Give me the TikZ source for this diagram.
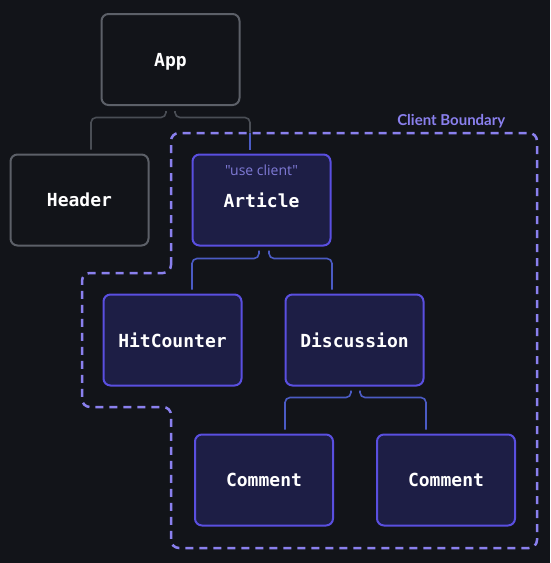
\documentclass[tikz,border=0pt]{standalone}
\usepackage{fontspec}
\setmonofont{DejaVu Sans Mono}
\newfontfamily\latofont{Lato}
\newfontfamily\opensansfont{Open Sans}
\usetikzlibrary{calc}
\definecolor{bgc}{HTML}{121419}
\definecolor{grayborder}{HTML}{5C6068}
\definecolor{grayconn}{HTML}{4A4E55}
\definecolor{blueborder}{HTML}{5A4FE0}
\definecolor{bluefill}{HTML}{1D1E45}
\definecolor{blueconn}{HTML}{4B5BC4}
\definecolor{boundc}{HTML}{8A80EE}
\definecolor{usec}{HTML}{7F7AD6}
\begin{document}
\begin{tikzpicture}[x=1pt,y=-1pt,
  box/.style={rounded corners=7pt, line width=2pt, minimum width=138pt, minimum height=91pt,
    inner sep=0pt, text depth=0pt, text=white, font=\ttfamily\bfseries\fontsize{18}{21}\selectfont},
  graybox/.style={box, draw=grayborder, fill=bgc},
  bluebox/.style={box, draw=blueborder, fill=bluefill},
  gconn/.style={draw=grayconn, line width=1.6pt, rounded corners=5pt},
  bconn/.style={draw=blueconn, line width=1.6pt, rounded corners=5pt},
  bound/.style={draw=boundc, line width=2.5pt, dash pattern=on 8pt off 6pt, rounded corners=8pt}
]
\fill[bgc] (0,0) rectangle (550,563);
\useasboundingbox (0,0) rectangle (550,563);

% boundary
\draw[bound] (171,273) -- (171,133) -- (537,133) -- (537,548) -- (171,548) -- (171,407) -- (82,407) -- (82,273) -- cycle;
\node[anchor=east, text=boundc, font=\latofont\bfseries\fontsize{15}{17}\selectfont, inner sep=0pt] (blabel) at (505.5,121) {Client Boundary};

% nodes
\node[graybox] (app) at (170.5,59.5) {App};
\node[graybox] (header) at (79.5,200) {Header};
\node[bluebox] (article) at (261.5,200) {Article};
\node[anchor=center, text=usec, font=\opensansfont\fontsize{14}{16}\selectfont, inner sep=0pt] (use) at ($(article.center)+(0,-30)$) {"use client"};
\node[bluebox] (hit) at (172.5,340) {HitCounter};
\node[bluebox] (disc) at (354.5,340) {Discussion};
\node[bluebox] (c1) at (264,480) {Comment};
\node[bluebox] (c2) at (446,480) {Comment};

% connectors
\draw[gconn] ($(app.south)+(-4.5,5)$) |- ($(header.north)+(11.5,-36)$) -- ($(header.north)+(11.5,-4)$);
\draw[gconn] ($(app.south)+(4.5,5)$) |- ($(article.north)+(-11.5,-36)$) -- ($(article.north)+(-11.5,-21)$);
\draw[bconn] ($(article.north)+(-11.5,-21)$) -- ($(article.north)+(-11.5,-4)$);

\draw[bconn] ($(article.south)+(-2.5,4)$) |- ($(hit.north)+(19.5,-35)$) -- ($(hit.north)+(19.5,-4)$);
\draw[bconn] ($(article.south)+(7.5,4)$) |- ($(disc.north)+(-22.5,-35)$) -- ($(disc.north)+(-22.5,-4)$);

\draw[bconn] ($(disc.south)+(-3.5,4)$) |- ($(c1.north)+(21,-36)$) -- ($(c1.north)+(21,-4)$);
\draw[bconn] ($(disc.south)+(5.5,4)$) |- ($(c2.north)+(-20,-36)$) -- ($(c2.north)+(-20,-4)$);
\end{tikzpicture}
\end{document}
